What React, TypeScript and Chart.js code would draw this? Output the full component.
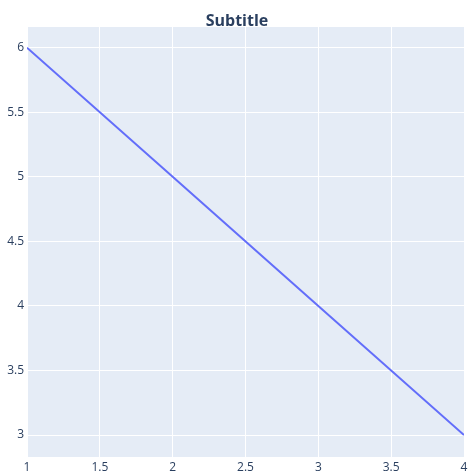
import React, { useEffect, useRef } from "react";
import { Chart, registerables } from "chart.js";

Chart.register(...registerables);

const titleText = "Subtitle";
const xValues = [1, 2, 3, 4];
const yValues = [6, 5, 4, 3];
const xTicks = [1, 1.5, 2, 2.5, 3, 3.5, 4];
const yTicks = [3, 3.5, 4, 4.5, 5, 5.5, 6];

const TEXT = "#2a3f5f";
const FONT = '"Open Sans", verdana, arial, sans-serif';

const plotBg = {
  id: "plotBg",
  beforeDraw(chart: any) {
    const { ctx, chartArea } = chart;
    ctx.save();
    ctx.fillStyle = "#E5ECF6";
    ctx.fillRect(chartArea.left, chartArea.top, chartArea.right - chartArea.left, chartArea.bottom - chartArea.top);
    ctx.restore();
  },
  afterDraw(chart: any) {
    const { ctx } = chart;
    ctx.save();
    ctx.fillStyle = TEXT;
    ctx.font = `bold 16px ${FONT}`;
    ctx.textAlign = "center";
    ctx.textBaseline = "alphabetic";
    ctx.fillText(titleText, chart.width / 2, 26);
    ctx.restore();
  },
};

export default function App() {
  const ref = useRef<HTMLCanvasElement>(null);
  useEffect(() => {
    document.body.style.margin = "0";
    const chart = new Chart(ref.current!, {
      type: "line",
      data: {
        datasets: [
          {
            data: xValues.map((x, i) => ({ x, y: yValues[i] })),
            borderColor: "#636efa",
            borderWidth: 2,
            pointRadius: 0,
            fill: false,
            tension: 0,
          },
        ],
      },
      options: {
        animation: false,
        responsive: false,
        devicePixelRatio: 1,
        layout: { padding: { left: 0, top: 27, right: 10, bottom: 0 } },
        plugins: { legend: { display: false }, tooltip: { enabled: false }, title: { display: false } },
        scales: {
          x: {
            type: "linear",
            min: 1,
            max: 4,
            afterBuildTicks: (s: any) => {
              s.ticks = xTicks.map((v) => ({ value: v }));
            },
            afterFit: (s: any) => {
              s.height = 19;
            },
            grid: { color: "#ffffff", lineWidth: 1, drawTicks: false },
            border: { display: false },
            ticks: {
              color: TEXT,
              font: { family: FONT, size: 12 },
              padding: 3,
              maxRotation: 0,
              autoSkip: false,
              callback: (v: any) => String(v),
            },
          },
          y: {
            type: "linear",
            min: 2.83,
            max: 6.16,
            afterBuildTicks: (s: any) => {
              s.ticks = yTicks.map((v) => ({ value: v }));
            },
            afterFit: (s: any) => {
              s.width = 27;
            },
            grid: { color: "#ffffff", lineWidth: 1, drawTicks: false },
            border: { display: false },
            ticks: {
              color: TEXT,
              font: { family: FONT, size: 12 },
              padding: 3,
              autoSkip: false,
              callback: (v: any) => String(v),
            },
          },
        },
      },
      plugins: [plotBg],
    });
    return () => chart.destroy();
  }, []);
  return (
    <div style={{ position: "absolute", left: 0, top: 0, width: 474, height: 476, background: "#fff" }}>
      <canvas ref={ref} width={474} height={476} style={{ width: 474, height: 476 }} />
    </div>
  );
}
